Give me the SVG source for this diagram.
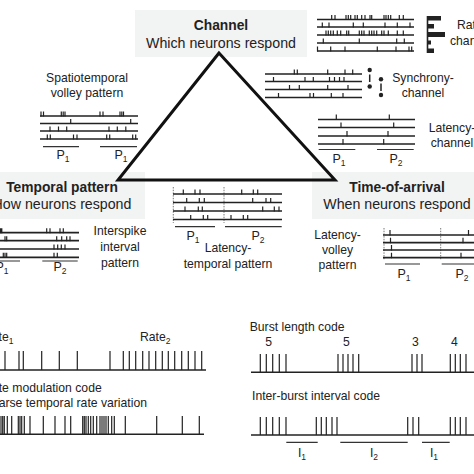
<svg xmlns="http://www.w3.org/2000/svg" width="474" height="474" viewBox="0 0 474 474">
<style>
text{font-family:"Liberation Sans",Arial,sans-serif;fill:#222}
.h{font-size:13.8px;font-weight:bold;text-anchor:middle}
.s{font-size:14.2px;text-anchor:middle}
.l{font-size:12.2px;text-anchor:middle}
.ls{font-size:12.2px}
.p{font-size:12.5px;text-anchor:middle}
.sub{font-size:8.5px}
.box{fill:#f2f3f3}
.tr{stroke:#222;stroke-width:1.7;fill:none}
.sp{stroke:#222;stroke-width:1.2;fill:none}
.bt{stroke:#222;stroke-width:1.4;fill:none}
.bs{stroke:#222;stroke-width:1.2;fill:none}
.pb{stroke:#333;stroke-width:1.2;fill:none}
.dv{stroke:#555;stroke-width:0.8;stroke-dasharray:1.5 1.2;fill:none}
</style>
<g id="channel-box"><rect class="box" x="135" y="10" width="172" height="47"/>
<text class="h" x="221" y="30">Channel</text><text class="s" x="221" y="48">Which neurons respond</text></g>
<g id="temporal-box"><rect class="box" x="0" y="172" width="145" height="47"/>
<text class="h" x="62" y="192">Temporal pattern</text><text class="s" x="62" y="209">How neurons respond</text></g>
<g id="arrival-box"><rect class="box" x="312" y="172" width="162" height="47"/>
<text class="h" x="397" y="192">Time-of-arrival</text><text class="s" x="397" y="209">When neurons respond</text></g>
<g id="connectors"><path d="M219 53 L118 180 L335 180 Z" fill="none" stroke="#111" stroke-width="3" stroke-linejoin="miter"/></g>

<g id="spatiotemporal">
<text class="l" x="87" y="82">Spatiotemporal</text><text class="l" x="87" y="97">volley pattern</text>
<path class="tr" d="M40 116H138M40 123.5H138M40 131H138M40 139H138"/>
<path class="sp" d="M41 111.5v5M43.5 111.5v5M61.3 111.5v5M63.2 111.5v5M65 111.5v5M100 111.5v5M103 111.5v5M120 111.5v5M121.8 111.5v5M123.5 111.5v5
M70.7 119v5M130.7 119v5
M50 126.5v5M58.5 126.5v5M66.7 126.5v5M109 126.5v5M117.3 126.5v5M125.8 126.5v5
M47.3 134.5v5M50.3 134.5v5M73.5 134.5v5M77 134.5v5M106.7 134.5v5M109.7 134.5v5M132.7 134.5v5M135.7 134.5v5"/>
<path class="pb" d="M43 146.7H79M100 146.7H137"/>
<text class="p" x="63" y="159">P<tspan class="sub" dy="3">1</tspan></text>
<text class="p" x="121" y="159">P<tspan class="sub" dy="3">1</tspan></text>
</g>

<g id="rate-channel">
<path class="tr" d="M317 19.5H414M317 27H414M317 35H414M317 43H414M317 51H414"/>
<path class="sp" d="M331.7 15v5M335 15v5M346 15v5M348.3 15v5M350.7 15v5M355 15v5M357.3 15v5M361.7 15v5M365 15v5M370 15v5M371.7 15v5M384 15v5M386 15v5M388.3 15v5M390.7 15v5M399.3 15v5M403.3 15v5
M322.3 22.5v5M329 22.5v5M353.3 22.5v5M363.3 22.5v5M385 22.5v5M397.3 22.5v5M410 22.5v5
M326 30.5v5M328.3 30.5v5M330.7 30.5v5M333.3 30.5v5M337.3 30.5v5M340.7 30.5v5M346.7 30.5v5M348.7 30.5v5M359.3 30.5v5M361.7 30.5v5M364 30.5v5M369.3 30.5v5M371.7 30.5v5M374 30.5v5M376.7 30.5v5M381.7 30.5v5M384 30.5v5M388.3 30.5v5M397.3 30.5v5M403.3 30.5v5
M323.3 38.5v5M359.3 38.5v5M396.7 38.5v5M404.3 38.5v5
M317.5 46.5v5M330.7 46.5v5M345 46.5v5M377.3 46.5v5M396 46.5v5M409 46.5v5M411.7 46.5v5"/>
<path d="M427.5 16V53" stroke="#222" stroke-width="1.6"/>
<rect x="427" y="16" width="14" height="4.5" fill="#222"/>
<rect x="427" y="24" width="7" height="4.5" fill="#222"/>
<rect x="427" y="32" width="18" height="5" fill="#222"/>
<rect x="427" y="40.5" width="4" height="4" fill="#222"/>
<rect x="427" y="48.5" width="7" height="4.5" fill="#222"/>
<text class="ls" x="457" y="29">Rate-</text><text class="ls" x="450" y="45">channel</text>
</g>

<g id="synchrony-channel">
<path class="tr" d="M265 74H362M265 81.5H362M265 89.5H362M265 97.5H362"/>
<path class="sp" d="M294.3 69.5v5M297.3 69.5v5M327.7 69.5v5M345 69.5v5M352.7 69.5v5
M273.5 77v5M305 77v5M313.3 77v5M329.5 77v5M334.5 77v5M339.5 77v5M344 77v5
M289.5 85v5M299.3 85v5M327.7 85v5M348 85v5
M278.5 93v5M310 93v5M313.5 93v5M331.3 93v5M343 93v5"/>
<circle cx="369.7" cy="70" r="2.2" fill="#222"/><circle cx="369.7" cy="86.5" r="2.2" fill="#222"/>
<path d="M369.7 74.5V82" stroke="#222" stroke-width="1.5"/>
<circle cx="381" cy="79.3" r="2.2" fill="#222"/><circle cx="381" cy="95" r="2.2" fill="#222"/>
<path d="M381 83.5V91" stroke="#222" stroke-width="1.5"/>
<text class="l" x="423" y="82">Synchrony-</text><text class="l" x="423" y="97">channel</text>
</g>

<g id="latency-channel">
<path class="tr" d="M318 119.5H415M318 127.5H415M318 136H415M318 144H415"/>
<path class="sp" d="M336.3 114.5v5.5M389.3 114.5v5.5M341 122.5v5.5M393.7 122.5v5.5M347 131v5.5M388 131v5.5M343 139v5.5M383.7 139v5.5"/>
<path class="pb" d="M318.7 149.5H355.3M377 149.5H413.7"/>
<text class="p" x="339" y="163">P<tspan class="sub" dy="3">1</tspan></text>
<text class="p" x="396" y="163">P<tspan class="sub" dy="3">2</tspan></text>
<text class="l" x="452" y="132">Latency-</text><text class="l" x="452" y="147">channel</text>
</g>

<g id="interspike">
<path class="tr" d="M0 232.7H79M0 240.7H79M0 249H79M0 257.3H79"/>
<path class="sp" d="M0.6 228.2v5M1.8 228.2v5M46.7 228.2v5M50 228.2v5M60 228.2v5M63.3 228.2v5
M5 236.2v5M6.7 236.2v5M56.7 236.2v5M61.7 236.2v5M66.7 236.2v5M70 236.2v5
M54 244.5v5M57.7 244.5v5M61.3 244.5v5M65 244.5v5
M3.3 252.8v5M5 252.8v5M6.7 252.8v5M54 252.8v5M57.3 252.8v5"/>
<path class="pb" d="M0 261H20M42.3 261H77.7"/>
<text class="p" x="2" y="271">P<tspan class="sub" dy="3">1</tspan></text>
<text class="p" x="60" y="271">P<tspan class="sub" dy="3">2</tspan></text>
<text class="l" x="120" y="235">Interspike</text><text class="l" x="120" y="251">interval</text><text class="l" x="120" y="267">pattern</text>
</g>

<g id="latency-temporal">
<path class="dv" d="M173.3 187V223M224 187V223"/>
<path class="tr" d="M173 194H282M173 202.5H282M173 211H282M173 219.5H282"/>
<path class="sp" d="M183.3 189.5v5M195 189.5v5M200 189.5v5M241.7 189.5v5M253.3 189.5v5M257.7 189.5v5
M186.7 198v5M199.3 198v5M204.3 198v5M252.7 198v5M266 198v5M270.7 198v5
M185 206.5v5M198.3 206.5v5M202.3 206.5v5M262.7 206.5v5M274.3 206.5v5M279 206.5v5
M190.7 215v5M203.3 215v5M207.7 215v5M231 215v5M243.3 215v5M247.7 215v5"/>
<path class="pb" d="M175 226.7H215M225 226.7H281.7"/>
<text class="p" x="193" y="240">P<tspan class="sub" dy="3">1</tspan></text>
<text class="p" x="258" y="240">P<tspan class="sub" dy="3">2</tspan></text>
<text class="l" x="228" y="252">Latency-</text><text class="l" x="228" y="268">temporal pattern</text>
</g>

<g id="latency-volley">
<text class="l" x="337.5" y="238.5">Latency-</text><text class="l" x="337.5" y="253.5">volley</text><text class="l" x="337.5" y="268.5">pattern</text>
<path class="dv" d="M384 228V260M440.7 228V260"/>
<path class="tr" d="M383 235H474M383 242.7H474M383 250H474M383 257.7H474"/>
<path class="sp" d="M390 230v5.5M468.5 230v5.5M390.5 237.7v5.5M463 237.7v5.5M391.5 245v5.5M391.5 252.7v5.5M461 252.7v5.5"/>
<path class="pb" d="M385 264H420M441.7 264H474"/>
<text class="p" x="404" y="278">P<tspan class="sub" dy="3">1</tspan></text>
<text class="p" x="462" y="278">P<tspan class="sub" dy="3">2</tspan></text>
</g>

<g id="rate-code">
<text class="ls" x="13.5" y="341" text-anchor="end">Rate<tspan class="sub" dy="3">1</tspan></text>
<text class="ls" x="140" y="341">Rate<tspan class="sub" dy="3">2</tspan></text>
<path class="bt" d="M0 370H206"/>
<path class="bs" d="M5 351V370M19 351V370M23.3 351V370M41.7 351V370M59.3 351V370M77.3 351V370M110 351V370M123.3 351V370M129.3 351V370M135.7 351V370M142.7 351V370M149 351V370M155.7 351V370M162.3 351V370M168.3 351V370M174.7 351V370M181.7 351V370M188.3 351V370M195 351V370M201.7 351V370"/>
</g>

<g id="rate-modulation">
<text class="ls" x="101.7" y="392" text-anchor="end">Rate modulation code</text>
<text class="ls" x="147" y="407" text-anchor="end">Coarse temporal rate variation</text>
<path class="bt" d="M0 434.3H204"/>
<path class="bs" d="M1 416V434M2.7 416V434M4.3 416V434M7.3 416V434M11.7 416V434M18.3 416V434M20 416V434M21.7 416V434M24.3 416V434M30 416V434M43.3 416V434M55 416V434M65 416V434M70.7 416V434M82.7 416V434M84.3 416V434M86 416V434M88.3 416V434M90.7 416V434M93.3 416V434M96.7 416V434M100 416V434M102 416V434M104 416V434M106 416V434M108.3 416V434M111.7 416V434M114.3 416V434M125.3 416V434M156.7 416V434M182.3 416V434M199.3 416V434"/>
</g>

<g id="burst-length">
<text class="ls" x="249.7" y="330.5">Burst length code</text>
<text class="l" x="268.7" y="345.5">5</text><text class="l" x="346.3" y="345.5">5</text><text class="l" x="415.3" y="345.5">3</text><text class="l" x="454.3" y="345.5">4</text>
<path class="bt" d="M251 372.3H474"/>
<path class="bs" d="M260.3 354V372M266.3 354V372M272.7 354V372M279.3 354V372M286 354V372M338 354V372M343 354V372M348 354V372M353 354V372M358.7 354V372M412 354V372M417 354V372M422 354V372M450.3 354V372M455.3 354V372M460.3 354V372M466 354V372"/>
</g>

<g id="inter-burst">
<text class="ls" x="252" y="400">Inter-burst interval code</text>
<path class="bt" d="M251 435H474"/>
<path class="bs" d="M260.3 417V435M266.3 417V435M272.7 417V435M279.3 417V435M286 417V435M316.3 417V435M321.3 417V435M326.3 417V435M332 417V435M337 417V435M407.7 417V435M413 417V435M418.7 417V435M450.3 417V435M455.3 417V435M460.3 417V435M466 417V435"/>
<path class="pb" d="M286.3 442.3H317.7M340.3 442.3H407.7M422 442.3H449.7" stroke-width="1"/>
<text class="l" x="302" y="457">I<tspan class="sub" dy="3">1</tspan></text>
<text class="l" x="374" y="457">I<tspan class="sub" dy="3">2</tspan></text>
<text class="l" x="434" y="457">I<tspan class="sub" dy="3">1</tspan></text>
</g>
</svg>
